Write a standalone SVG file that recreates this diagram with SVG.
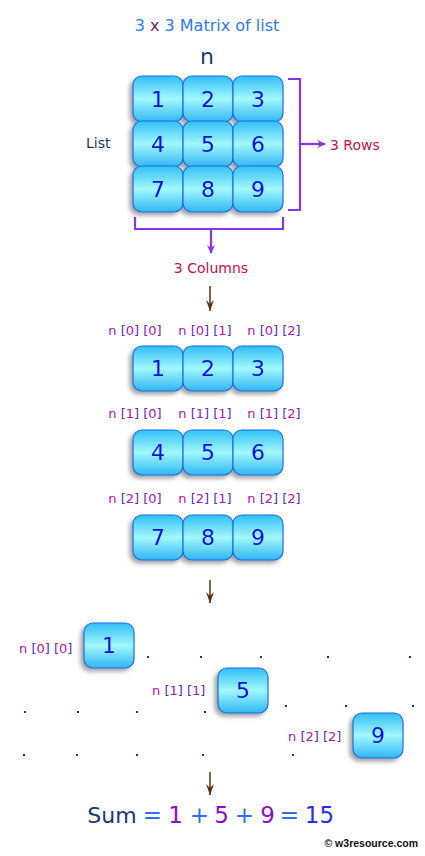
<svg xmlns="http://www.w3.org/2000/svg" width="425" height="856" viewBox="0 0 425 856">
<defs>
<linearGradient id="cellg" x1="0" y1="0" x2="0" y2="1">
<stop offset="0" stop-color="#30bff6"/>
<stop offset="0.5" stop-color="#a2f8ff"/>
<stop offset="1" stop-color="#2fb6f2"/>
</linearGradient>
<filter id="sh" x="-30%" y="-30%" width="160%" height="160%">
<feDropShadow dx="-3" dy="3" stdDeviation="2" flood-color="#555" flood-opacity="0.55"/>
</filter>
<marker id="pa" markerWidth="10" markerHeight="10" refX="8" refY="5" orient="auto" markerUnits="userSpaceOnUse">
<path d="M0,1 L9,5 L0,9 L3,5 Z" fill="#8833ee"/>
</marker>
<marker id="ba" markerWidth="10" markerHeight="12" refX="5" refY="11" orient="0" markerUnits="userSpaceOnUse">
<path d="M1,0 L5,11 L9,0 L5,4 Z" fill="#5a3010"/>
</marker>
</defs>
<style>
text{font-family:"DejaVu Sans",Verdana,sans-serif}
.cell rect{fill:url(#cellg);stroke:#1e6fe8;stroke-width:1.2}
.cell text{fill:#0a10e0;font-size:22px;text-anchor:middle}
.lbl{font-size:13px;fill:#b010b0}
.br{fill:#5a2ad0}
.dot{fill:#1a3a6e}
.purp{stroke:#8833ee;stroke-width:2.2;fill:none}
.brown{stroke:#5a3010;stroke-width:1.5}
.sum{font-size:23px;text-anchor:middle}
.op{fill:#2f6cf0}
.num{fill:#8a10c8}
</style>

<text x="207" y="31" font-size="16" text-anchor="middle" fill="#3377ee">3 <tspan fill="#5a2a6e">x</tspan> 3 Matrix of list</text>
<text x="207" y="64" font-size="22" text-anchor="middle" fill="#1a3a6e">n</text>
<text x="86" y="148" font-size="14" fill="#1a3a6e">List</text>

<g id="matrix" filter="url(#sh)">
<g class="cell" id="m1"><rect x="133" y="76" width="50" height="46" rx="9"/><text x="158" y="107">1</text></g>
<g class="cell" id="m2"><rect x="183" y="76" width="50" height="46" rx="9"/><text x="208" y="107">2</text></g>
<g class="cell" id="m3"><rect x="233" y="76" width="50" height="46" rx="9"/><text x="258" y="107">3</text></g>
<g class="cell" id="m4"><rect x="133" y="121" width="50" height="46" rx="9"/><text x="158" y="152">4</text></g>
<g class="cell" id="m5"><rect x="183" y="121" width="50" height="46" rx="9"/><text x="208" y="152">5</text></g>
<g class="cell" id="m6"><rect x="233" y="121" width="50" height="46" rx="9"/><text x="258" y="152">6</text></g>
<g class="cell" id="m7"><rect x="133" y="166" width="50" height="46" rx="9"/><text x="158" y="197">7</text></g>
<g class="cell" id="m8"><rect x="183" y="166" width="50" height="46" rx="9"/><text x="208" y="197">8</text></g>
<g class="cell" id="m9"><rect x="233" y="166" width="50" height="46" rx="9"/><text x="258" y="197">9</text></g>
</g>

<g id="connectors">
<path class="purp" d="M288,79 H300 V210 H288"/>
<line class="purp" x1="301" y1="144" x2="325" y2="144" stroke-width="1.8" marker-end="url(#pa)"/>
<path class="purp" d="M135,217 V229 H283 V217"/>
<line class="purp" x1="211" y1="230" x2="211" y2="253" stroke-width="1.8" marker-end="url(#pa)"/>
<line class="brown" x1="210" y1="286" x2="210" y2="311" marker-end="url(#ba)"/>
<line class="brown" x1="210" y1="580" x2="210" y2="603" marker-end="url(#ba)"/>
<line class="brown" x1="210" y1="772" x2="210" y2="795" marker-end="url(#ba)"/>
</g>

<text x="330" y="150" font-size="14" fill="#c4104a">3 Rows</text>
<text x="211" y="273" font-size="14" text-anchor="middle" fill="#c4104a">3 Columns</text>

<g id="labels-rows">
<text class="lbl" x="135" y="335" text-anchor="middle">n <tspan class="br">[</tspan>0<tspan class="br">]</tspan> <tspan class="br">[</tspan>0<tspan class="br">]</tspan></text>
<text class="lbl" x="205" y="335" text-anchor="middle">n <tspan class="br">[</tspan>0<tspan class="br">]</tspan> <tspan class="br">[</tspan>1<tspan class="br">]</tspan></text>
<text class="lbl" x="274" y="335" text-anchor="middle">n <tspan class="br">[</tspan>0<tspan class="br">]</tspan> <tspan class="br">[</tspan>2<tspan class="br">]</tspan></text>
<text class="lbl" x="135" y="418" text-anchor="middle">n <tspan class="br">[</tspan>1<tspan class="br">]</tspan> <tspan class="br">[</tspan>0<tspan class="br">]</tspan></text>
<text class="lbl" x="205" y="418" text-anchor="middle">n <tspan class="br">[</tspan>1<tspan class="br">]</tspan> <tspan class="br">[</tspan>1<tspan class="br">]</tspan></text>
<text class="lbl" x="274" y="418" text-anchor="middle">n <tspan class="br">[</tspan>1<tspan class="br">]</tspan> <tspan class="br">[</tspan>2<tspan class="br">]</tspan></text>
<text class="lbl" x="135" y="503" text-anchor="middle">n <tspan class="br">[</tspan>2<tspan class="br">]</tspan> <tspan class="br">[</tspan>0<tspan class="br">]</tspan></text>
<text class="lbl" x="205" y="503" text-anchor="middle">n <tspan class="br">[</tspan>2<tspan class="br">]</tspan> <tspan class="br">[</tspan>1<tspan class="br">]</tspan></text>
<text class="lbl" x="274" y="503" text-anchor="middle">n <tspan class="br">[</tspan>2<tspan class="br">]</tspan> <tspan class="br">[</tspan>2<tspan class="br">]</tspan></text>
</g>

<g id="rows" filter="url(#sh)">
<g class="cell" id="r1"><rect x="133" y="346" width="50" height="45" rx="9"/><text x="158" y="376">1</text></g>
<g class="cell" id="r2"><rect x="183" y="346" width="50" height="45" rx="9"/><text x="208" y="376">2</text></g>
<g class="cell" id="r3"><rect x="233" y="346" width="50" height="45" rx="9"/><text x="258" y="376">3</text></g>
<g class="cell" id="r4"><rect x="133" y="430" width="50" height="45" rx="9"/><text x="158" y="460">4</text></g>
<g class="cell" id="r5"><rect x="183" y="430" width="50" height="45" rx="9"/><text x="208" y="460">5</text></g>
<g class="cell" id="r6"><rect x="233" y="430" width="50" height="45" rx="9"/><text x="258" y="460">6</text></g>
<g class="cell" id="r7"><rect x="133" y="515" width="50" height="45" rx="9"/><text x="158" y="545">7</text></g>
<g class="cell" id="r8"><rect x="183" y="515" width="50" height="45" rx="9"/><text x="208" y="545">8</text></g>
<g class="cell" id="r9"><rect x="233" y="515" width="50" height="45" rx="9"/><text x="258" y="545">9</text></g>
</g>

<text class="lbl" x="19" y="653">n <tspan class="br">[</tspan>0<tspan class="br">]</tspan> <tspan class="br">[</tspan>0<tspan class="br">]</tspan></text>
<text class="lbl" x="152" y="695">n <tspan class="br">[</tspan>1<tspan class="br">]</tspan> <tspan class="br">[</tspan>1<tspan class="br">]</tspan></text>
<text class="lbl" x="288" y="741">n <tspan class="br">[</tspan>2<tspan class="br">]</tspan> <tspan class="br">[</tspan>2<tspan class="br">]</tspan></text>

<g id="diag" filter="url(#sh)">
<g class="cell" id="d1"><rect x="84" y="623" width="50" height="45" rx="9"/><text x="109" y="653">1</text></g>
<g class="cell" id="d5"><rect x="218" y="668" width="50" height="45" rx="9"/><text x="243" y="698">5</text></g>
<g class="cell" id="d9"><rect x="353" y="713" width="50" height="45" rx="9"/><text x="378" y="743">9</text></g>
</g>

<g id="dots">
<rect class="dot" x="147" y="656" width="2" height="2"/>
<rect class="dot" x="200" y="656" width="2" height="2"/>
<rect class="dot" x="260" y="656" width="2" height="2"/>
<rect class="dot" x="327" y="656" width="2" height="2"/>
<rect class="dot" x="409" y="656" width="2" height="2"/>
<rect class="dot" x="285" y="705" width="2" height="2"/>
<rect class="dot" x="345" y="705" width="2" height="2"/>
<rect class="dot" x="412" y="705" width="2" height="2"/>
<rect class="dot" x="24" y="711" width="2" height="2"/>
<rect class="dot" x="77" y="711" width="2" height="2"/>
<rect class="dot" x="136" y="711" width="2" height="2"/>
<rect class="dot" x="204" y="711" width="2" height="2"/>
<rect class="dot" x="23" y="754" width="2" height="2"/>
<rect class="dot" x="76" y="754" width="2" height="2"/>
<rect class="dot" x="136" y="754" width="2" height="2"/>
<rect class="dot" x="202" y="754" width="2" height="2"/>
<rect class="dot" x="292" y="754" width="2" height="2"/>
</g>

<g id="sum">
<text class="sum" x="112" y="823" fill="#1a3a6e" style="font-size:22px">Sum</text>
<text class="sum op" x="152.5" y="823">=</text>
<text class="sum num" x="175.5" y="823">1</text>
<text class="sum op" x="199.5" y="823">+</text>
<text class="sum num" x="221.5" y="823">5</text>
<text class="sum op" x="244.5" y="823">+</text>
<text class="sum num" x="267.5" y="823">9</text>
<text class="sum op" x="289.5" y="823">=</text>
<text class="sum" x="319.5" y="823" fill="#2a2af0">15</text>
</g>

<text x="418" y="847" font-size="10.5" font-weight="bold" text-anchor="end" fill="#111" style="font-family:'Liberation Sans',Arial,sans-serif">© w3resource.com</text>
</svg>
